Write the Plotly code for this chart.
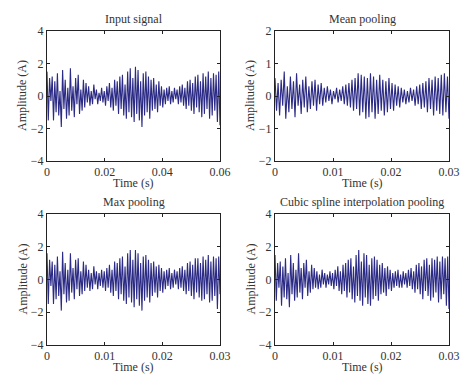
import numpy as np
import plotly.graph_objects as go

# ---------------- data ----------------
input_signal = [
    1.5, -1.5, 1.1, -0.3, 1.2, -1.5, 0.9, -1.0, 1.4, -1.2, 0.3, -1.9, 1.6, -0.8, 1.0, -1.4,
    0.5, -1.2, 1.7, -0.9, 0.6, -1.3, 1.1, -0.5, 1.3, -1.1, 0.4, -0.9, 1.0, -0.7, 0.8, -0.4,
    0.6, -0.6, 0.3, -0.5, 0.7, -0.2, 0.4, -0.5, 0.2, -0.3, 0.5, -0.4, 0.3, -0.6, 0.6, -0.3,
    0.8, -0.7, 0.5, -0.9, 1.0, -0.6, 0.9, -1.1, 1.2, -0.8, 1.3, -1.2, 0.7, -1.4, 1.5, -1.0,
    1.7, -1.3, 1.1, -1.6, 1.8, -1.1, 1.6, -1.5, 0.9, -1.9, 1.4, -1.2, 1.5, -1.0, 1.2, -1.4,
    1.0, -0.9, 1.1, -0.8, 0.7, -1.0, 0.9, -0.6, 0.6, -0.7, 0.4, -0.5, 0.5, -0.3, 0.6, -0.5,
    0.3, -0.4, 0.5, -0.2, 0.4, -0.5, 0.6, -0.4, 0.7, -0.6, 0.5, -0.8, 0.9, -0.6, 1.0, -0.9,
    0.8, -1.1, 1.2, -0.7, 1.3, -1.0, 0.9, -1.3, 1.4, -1.1, 1.2, -0.8, 1.5, -1.4, 1.1, -1.2,
    1.4, -0.9, 1.3, -1.6, 1.5, -1.8,
]

mean_pooling = [
    0.55, -0.45, 0.4, -0.6, 0.5, -0.3, 0.75, -0.7, 0.3, -0.5, 0.6, -0.4, 0.45, -0.65, 0.7, -0.3,
    0.35, -0.55, 0.5, -0.35, 0.6, -0.5, 0.3, -0.4, 0.45, -0.3, 0.5, -0.45, 0.35, -0.25, 0.4, -0.3,
    0.25, -0.2, 0.3, -0.15, 0.2, -0.25, 0.15, -0.1, 0.25, -0.2, 0.2, -0.15, 0.3, -0.25, 0.35, -0.3,
    0.4, -0.35, 0.5, -0.45, 0.55, -0.4, 0.7, -0.6, 0.65, -0.5, 0.6, -0.7, 0.55, -0.65, 0.7, -0.5,
    0.6, -0.7, 0.5, -0.55, 0.65, -0.45, 0.5, -0.6, 0.45, -0.5, 0.55, -0.4, 0.4, -0.45, 0.35, -0.3,
    0.3, -0.35, 0.25, -0.2, 0.2, -0.25, 0.15, -0.2, 0.25, -0.15, 0.2, -0.3, 0.3, -0.25, 0.35, -0.4,
    0.4, -0.35, 0.45, -0.5, 0.55, -0.4, 0.5, -0.6, 0.6, -0.45, 0.55, -0.55, 0.65, -0.6, 0.7, -0.5,
    0.6, -0.7,
]

max_pooling = [
    1.6, -1.5, 1.2, -0.4, 1.1, -1.5, 0.9, -1.2, 1.4, -1.0, 0.5, -1.9, 1.7, -0.9, 1.0, -1.4,
    0.6, -1.3, 1.6, -0.8, 0.7, -1.2, 1.2, -0.6, 1.3, -1.0, 0.5, -0.9, 1.1, -0.7, 0.9, -0.5,
    0.6, -0.7, 0.4, -0.6, 0.8, -0.3, 0.5, -0.6, 0.4, -0.4, 0.6, -0.5, 0.5, -0.7, 0.7, -0.5,
    0.9, -0.8, 0.6, -1.0, 1.1, -0.7, 1.0, -1.2, 1.3, -0.9, 1.4, -1.3, 0.8, -1.5, 1.6, -1.1,
    1.8, -1.4, 1.2, -1.7, 1.8, -1.2, 1.6, -1.6, 1.0, -1.9, 1.4, -1.3, 1.5, -1.1, 1.2, -1.4,
    1.0, -1.0, 1.1, -0.8, 0.8, -1.1, 0.9, -0.7, 0.7, -0.8, 0.5, -0.6, 0.6, -0.4, 0.7, -0.6,
    0.4, -0.5, 0.6, -0.3, 0.5, -0.6, 0.7, -0.5, 0.8, -0.7, 0.6, -0.9, 1.0, -0.7, 1.1, -1.0,
    0.9, -1.2, 1.3, -0.8, 1.3, -1.1, 1.0, -1.3, 1.4, -1.2, 1.2, -0.9, 1.5, -1.4, 1.1, -1.3,
    1.4, -1.0, 1.3, -1.8, 1.4, -0.9,
]

cubic_pooling = [
    1.5, -1.3, 1.0, -0.5, 1.1, -1.6, 0.8, -1.1, 1.3, -1.2, 0.4, -1.7, 1.5, -0.9, 1.0, -1.3,
    0.6, -1.1, 1.6, -0.8, 0.7, -1.2, 1.0, -0.5, 1.2, -1.0, 0.5, -0.8, 0.9, -0.6, 0.7, -0.5,
    0.5, -0.6, 0.3, -0.5, 0.6, -0.3, 0.4, -0.5, 0.3, -0.3, 0.5, -0.4, 0.4, -0.6, 0.6, -0.4,
    0.8, -0.7, 0.5, -0.9, 0.9, -0.7, 1.0, -1.1, 1.2, -0.8, 1.3, -1.2, 0.8, -1.4, 1.5, -1.0,
    1.8, -1.3, 1.1, -1.6, 1.6, -1.1, 1.5, -1.5, 0.9, -1.6, 1.3, -1.2, 1.4, -1.0, 1.2, -1.3,
    0.9, -0.9, 1.0, -0.8, 0.7, -1.0, 0.8, -0.6, 0.6, -0.7, 0.4, -0.5, 0.5, -0.4, 0.6, -0.5,
    0.3, -0.5, 0.5, -0.3, 0.4, -0.5, 0.6, -0.4, 0.7, -0.6, 0.5, -0.8, 0.9, -0.6, 1.0, -0.9,
    0.8, -1.2, 1.2, -0.7, 1.3, -1.0, 0.9, -1.3, 1.3, -1.1, 1.2, -0.8, 1.4, -1.4, 1.1, -1.2,
    1.4, -0.9, 1.3, -1.6, 1.4, -1.8,
]

titles = ["Input signal", "Mean pooling", "Max pooling", "Cubic spline interpolation pooling"]
durations = [0.06, 0.03, 0.03, 0.03]
x_ticks = [[0, 0.02, 0.04, 0.06], [0, 0.01, 0.02, 0.03], [0, 0.01, 0.02, 0.03], [0, 0.01, 0.02, 0.03]]
y_ranges = [[-4, 4], [-2, 2], [-4, 4], [-4, 4]]
y_ticks = [[-4, -2, 0, 2, 4], [-2, -1, 0, 1, 2], [-4, -2, 0, 2, 4], [-4, -2, 0, 2, 4]]
series = [input_signal, mean_pooling, max_pooling, cubic_pooling]

# ---------------- layout ----------------
W, H = 474, 390
boxes = [(47, 220, 31, 161), (275, 449, 31, 161), (47, 220, 214, 345), (275, 449, 214, 345)]
FONT = "Liberation Serif, Times New Roman, serif"
TXT = "#333"
LINE = "#2b2a85"

fig = go.Figure()
layout = dict(width=W, height=H, margin=dict(l=0, r=0, t=0, b=0, autoexpand=False),
              paper_bgcolor="white", plot_bgcolor="white", showlegend=False,
              font=dict(family=FONT, size=12, color=TXT))
annotations = []
for i, (vals, dur) in enumerate(zip(series, durations)):
    t = np.linspace(0, dur, len(vals))
    n = "" if i == 0 else str(i + 1)
    fig.add_trace(go.Scatter(x=t, y=vals, mode="lines", line=dict(color=LINE, width=1.1),
                             xaxis="x" + n, yaxis="y" + n, hoverinfo="skip"))
    x0, x1, y0, y1 = boxes[i]
    ax_common = dict(showgrid=False, zeroline=False, showline=True, mirror="ticks",
                     linecolor="#222", linewidth=1, ticks="inside", ticklen=3,
                     tickcolor="#222", automargin=False,
                     tickfont=dict(family=FONT, size=12, color=TXT))
    layout["xaxis" + n] = dict(ax_common, domain=[x0 / W, x1 / W], anchor="y" + n,
                               range=[0, dur], tickvals=x_ticks[i],
                               ticktext=[("%g" % v) for v in x_ticks[i]])
    layout["yaxis" + n] = dict(ax_common, domain=[1 - y1 / H, 1 - y0 / H], anchor="x" + n,
                               range=y_ranges[i], tickvals=y_ticks[i],
                               ticktext=[("%g" % v).replace("-", "\u2212") for v in y_ticks[i]])
    # subplot title
    annotations.append(dict(text=titles[i], x=(x0 + x1) / 2 / W, y=1 - (y0 - 3) / H,
                            xref="paper", yref="paper", xanchor="center", yanchor="bottom",
                            showarrow=False, font=dict(family=FONT, size=12, color=TXT)))
    # x axis title
    annotations.append(dict(text="Time (s)", x=(x0 + x1) / 2 / W, y=1 - (y1 + 22) / H,
                            xref="paper", yref="paper", xanchor="center", yanchor="middle",
                            showarrow=False, font=dict(family=FONT, size=12, color=TXT)))
    # y axis title
    annotations.append(dict(text="Amplitude (A)", x=(x0 - 25) / W, y=1 - (y0 + y1) / 2 / H,
                            xref="paper", yref="paper", xanchor="center", yanchor="middle",
                            textangle=-90, showarrow=False,
                            font=dict(family=FONT, size=12, color=TXT)))
layout["annotations"] = annotations
fig.update_layout(**layout)
fig.write_html("out.html", config={"displayModeBar": False, "staticPlot": True},
               post_script="document.body.style.margin='0';document.body.style.overflow='hidden';")
